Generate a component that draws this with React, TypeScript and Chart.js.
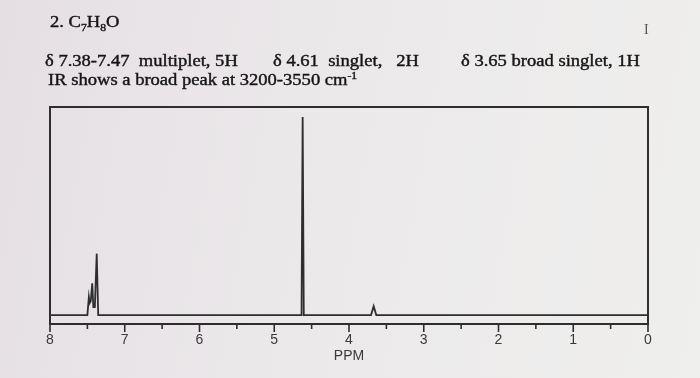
import React, { useEffect, useRef } from "react";
import { Chart, registerables } from "chart.js";

Chart.register(...registerables);

// Spectrum trace (ppm, relative intensity)
const spectrumPpm = [8.0, 7.50, 7.48, 7.47, 7.455, 7.435, 7.42, 7.40, 7.375, 7.355, 4.635, 4.62, 4.605, 3.705, 3.67, 3.635, 0.0];
const spectrumIntensity = [0, 0, 0.09, 0.06, 0.07, 0.16, 0.04, 0.04, 0.31, 0, 0, 1.0, 0, 0, 0.045, 0, 0];

const majorTicks = [8, 7, 6, 5, 4, 3, 2, 1, 0];
const minorTicks = [7.5, 6.5, 5.5, 4.5, 3.5, 2.5, 1.5, 0.5];
const axisTitle = "PPM";

const peakNotes = [
  "δ 7.38-7.47  multiplet, 5H",
  "δ 4.61  singlet,   2H",
  "δ 3.65 broad singlet, 1H",
];
const irNote = "IR shows a broad peak at 3200-3550 cm";

const INK = "#2e2e2e";

const framePlugin = {
  id: "nmrFrame",
  afterDraw(chart: any) {
    const { ctx, chartArea, scales } = chart;
    const { left, right, top, bottom } = chartArea;
    const x = scales.x;
    ctx.save();
    ctx.strokeStyle = INK;
    ctx.lineWidth = 2;
    ctx.strokeRect(left, top, right - left, bottom - top);
    ctx.lineWidth = 1.6;
    majorTicks.forEach((v) => {
      const px = x.getPixelForValue(v);
      ctx.beginPath();
      ctx.moveTo(px, bottom);
      ctx.lineTo(px, bottom + 8);
      ctx.stroke();
    });
    minorTicks.forEach((v) => {
      const px = x.getPixelForValue(v);
      ctx.beginPath();
      ctx.moveTo(px, bottom);
      ctx.lineTo(px, bottom + 5);
      ctx.stroke();
    });
    ctx.restore();
  },
};

const serif = "'Liberation Serif', 'Times New Roman', serif";
const textBase: React.CSSProperties = {
  position: "absolute",
  fontFamily: serif,
  fontSize: 16,
  lineHeight: "16px",
  color: "#161616",
  whiteSpace: "pre",
  transformOrigin: "left center",
  transform: "scaleX(1.16)",
  WebkitTextStroke: "0.4px #161616",
};

export default function App() {
  const canvasRef = useRef<HTMLCanvasElement | null>(null);

  useEffect(() => {
    if (!canvasRef.current) return;
    const chart = new Chart(canvasRef.current, {
      type: "line",
      data: {
        datasets: [
          {
            data: spectrumPpm.map((p, i) => ({ x: p, y: spectrumIntensity[i] })),
            borderColor: INK,
            borderWidth: 1.8,
            pointRadius: 0,
            tension: 0,
            fill: false,
          },
        ],
      },
      options: {
        animation: false,
        responsive: false,
        layout: { padding: { left: 50, right: 52, top: 107, bottom: 0 } },
        plugins: { legend: { display: false }, tooltip: { enabled: false } },
        scales: {
          x: {
            type: "linear",
            min: 0,
            max: 8,
            reverse: true,
            grid: { display: false, drawTicks: false },
            border: { display: false },
            ticks: {
              stepSize: 1,
              padding: 8,
              autoSkip: false,
              maxRotation: 0,
              color: "#3a3a3a",
              font: { family: "'Liberation Sans', Arial, sans-serif", size: 14 },
            },
            title: {
              display: true,
              text: axisTitle,
              color: "#3a3a3a",
              font: { family: "'Liberation Sans', Arial, sans-serif", size: 14 },
              padding: { top: 0, bottom: 13 },
            },
            afterFit: (s: any) => {
              s.height = 54;
            },
          },
          y: { display: false, min: -0.045, max: 1.05 },
        },
      } as any,
      plugins: [framePlugin],
    });
    return () => chart.destroy();
  }, []);

  return (
    <div
      style={{
        position: "fixed",
        left: 0,
        top: 0,
        width: 700,
        height: 378,
        overflow: "hidden",
        background: "linear-gradient(100deg, #e5dfe4 0%, #ebe8ea 40%, #efefed 100%)",
      }}
    >
      <canvas ref={canvasRef} width={700} height={378} style={{ position: "absolute", left: 0, top: 0 }} />
      <div style={{ ...textBase, left: 50, top: 14 }}>
        2. C<sub style={{ fontSize: 10 }}>7</sub>H<sub style={{ fontSize: 10 }}>8</sub>O
      </div>
      <div style={{ ...textBase, left: 45, top: 53 }}>{peakNotes[0]}</div>
      <div style={{ ...textBase, left: 273, top: 53 }}>{peakNotes[1]}</div>
      <div style={{ ...textBase, left: 461, top: 53 }}>{peakNotes[2]}</div>
      <div style={{ ...textBase, left: 48, top: 68 }}>
        {irNote}
        <sup style={{ fontSize: 10 }}>-1</sup>
      </div>
      <div style={{ ...textBase, transform: "none", WebkitTextStroke: "0px", left: 644, top: 22, fontSize: 14, color: "#555" }}>I</div>
    </div>
  );
}
